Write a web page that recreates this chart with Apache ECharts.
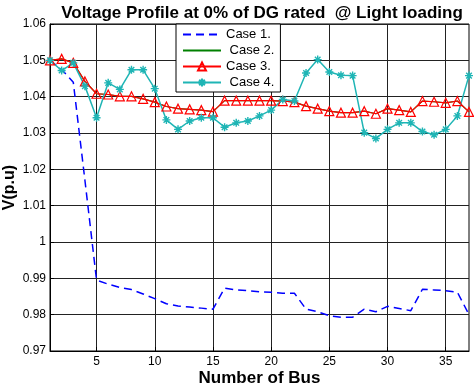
<!DOCTYPE html>
<html>
<head>
<meta charset="utf-8">
<script src="https://cdn.jsdelivr.net/npm/echarts@6/dist/echarts.min.js"></script>
<style>html,body{margin:0;padding:0;background:#fff}#c{width:474px;height:386px}</style>
</head>
<body>
<div id="c"></div>
<script>
const buses = [1,2,3,4,5,6,7,8,9,10,11,12,13,14,15,16,17,18,19,20,21,22,23,24,25,26,27,28,29,30,31,32,33,34,35,36,37];
const case1 = [1.050,1.0475,1.044,1.017,0.9895,0.9884,0.9875,0.9869,0.9857,0.9844,0.9830,0.9824,0.9821,0.9818,0.9815,0.9873,0.9868,0.9866,0.9863,0.9862,0.9859,0.9859,0.9815,0.9808,0.9797,0.9793,0.9793,0.9815,0.9808,0.9823,0.9817,0.9811,0.9870,0.9868,0.9866,0.9862,0.9800];
const case3 = [1.050,1.0504,1.0493,1.0442,1.0408,1.0406,1.0401,1.0401,1.0394,1.0385,1.0373,1.0367,1.0365,1.0363,1.0359,1.0389,1.0389,1.0389,1.0389,1.0389,1.0388,1.0385,1.0374,1.0367,1.0360,1.0356,1.0356,1.0360,1.0353,1.0367,1.0363,1.0358,1.0388,1.0386,1.0383,1.0388,1.0358];
const case2 = case3.slice();
const case4 = [1.050,1.0472,1.0493,1.0429,1.0342,1.0438,1.0420,1.0474,1.0474,1.0422,1.0336,1.0310,1.0333,1.0342,1.0342,1.0316,1.0328,1.0333,1.0347,1.0363,1.0392,1.0388,1.0465,1.0502,1.0468,1.0459,1.0458,1.0301,1.0285,1.0310,1.0328,1.0328,1.0304,1.0295,1.0310,1.0347,1.0458];
const xTicks = [5,10,15,20,25,30,35];
const seriesNames = ['Case 1.','Case 2.','Case 3.','Case 4.'];

const pair = arr => buses.map((b,i)=>[b,arr[i]]);
const star = 'path://M5 0 L5 10 M0 5 L10 5 M1.5 1.5 L8.5 8.5 M8.5 1.5 L1.5 8.5';
const font = 'Liberation Sans, Arial, Helvetica, sans-serif';

const chart = echarts.init(document.getElementById('c'), null, {renderer:'canvas'});
chart.setOption({
  animation:false,
  backgroundColor:'#fff',
  textStyle:{fontFamily:font},
  title:{
    text:'Voltage Profile at 0% of DG rated  @ Light loading',
    left:257, top:0, textAlign:'center',
    textStyle:{fontFamily:font, fontSize:17, fontWeight:'bold', color:'#000'}
  },
  grid:{left:50, right:5, top:24, bottom:35, outerBoundsMode:'none', containLabel:false,
    show:true, borderColor:'#000', borderWidth:1, backgroundColor:'#fff'},
  legend:{
    orient:'vertical', left:176, top:24, padding:[4,6,3,6],
    backgroundColor:'#fff', borderColor:'#000', borderWidth:1, borderRadius:0,
    itemWidth:38, itemHeight:10, itemGap:3,
    data:[
      {name:seriesNames[0], itemStyle:{opacity:0}},
      {name:seriesNames[1], itemStyle:{opacity:0}},
      {name:seriesNames[2]},
      {name:seriesNames[3]}
    ],
    formatter: n => (n==='Case 2.'||n==='Case 4.') ? ' '+n : n,
    textStyle:{fontFamily:font, fontSize:13, color:'#000'}
  },
  xAxis:{
    type:'value', min:1, max:37,
    name:'Number of Bus', nameLocation:'middle', nameGap:19, nameMoveOverlap:false,
    nameTextStyle:{fontFamily:font, fontSize:17, fontWeight:'bold', color:'#000'},
    axisLine:{show:true, lineStyle:{color:'#000', width:1}},
    axisTick:{show:true, inside:true, length:4, customValues:xTicks, lineStyle:{color:'#000'}},
    axisLabel:{customValues:xTicks, fontSize:12, color:'#000', fontFamily:font, margin:5},
    splitLine:{show:true, customValues:xTicks, lineStyle:{color:'#222', width:1}}
  },
  yAxis:{
    type:'value', min:0.97, max:1.06, interval:0.01,
    name:'V(p.u)', nameLocation:'middle', nameGap:32, nameRotate:90, nameMoveOverlap:false,
    nameTextStyle:{fontFamily:font, fontSize:16, fontWeight:'bold', color:'#000'},
    axisLine:{show:true, lineStyle:{color:'#000', width:1}},
    axisTick:{show:true, inside:true, length:4, lineStyle:{color:'#000'}},
    axisLabel:{fontSize:12, color:'#000', fontFamily:font, margin:4,
      formatter: v => String(Math.round(v*100)/100)},
    splitLine:{show:true, lineStyle:{color:'#222', width:1}}
  },
  series:[
    {name:seriesNames[0], type:'line', data:pair(case1), showSymbol:false, symbol:'none',
      lineStyle:{color:'#0000ff', width:1.5, type:[8,5]}, itemStyle:{color:'#0000ff'}},
    {name:seriesNames[1], type:'line', data:pair(case2), showSymbol:false, symbol:'none',
      lineStyle:{color:'#008000', width:1.2}, itemStyle:{color:'#008000'}},
    {name:seriesNames[2], type:'line', data:pair(case3), symbol:'triangle', symbolSize:9, showAllSymbol:true,
      lineStyle:{color:'#ff0000', width:1.2},
      itemStyle:{color:'rgba(255,255,255,0)', borderColor:'#ff0000', borderWidth:1.2}},
    {name:seriesNames[3], type:'line', data:pair(case4), symbol:star, symbolSize:8, showAllSymbol:true,
      lineStyle:{color:'#1fb5b5', width:1.5},
      itemStyle:{color:'rgba(255,255,255,0)', borderColor:'#1fb5b5', borderWidth:1.4}}
  ]
});
</script>
</body>
</html>
